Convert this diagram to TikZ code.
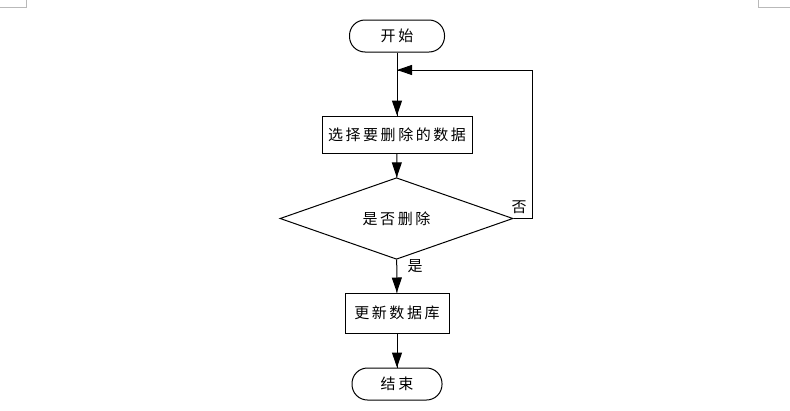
\documentclass[tikz,border=0pt]{standalone}
\usepackage{fontspec}
\usepackage{tikz}
\usetikzlibrary{arrows.meta}
\usetikzlibrary{decorations.markings}
\usetikzlibrary{shapes.geometric}
\newfontfamily\cjk[LetterSpace=17]{Noto Sans CJK SC}
\tikzset{arr/.style = {decoration={markings,
                                  mark=at position 1 with {\arrow{Triangle[length=15, width=10]}}},
                      postaction={decorate}}}
\tikzset{term/.style = {draw, rounded corners = 15.5, minimum width = 95, minimum height = 32, inner sep = 0}}
\tikzset{proc/.style = {draw, minimum height = 37, inner sep = 0}}
\tikzset{decide/.style = {draw, diamond, minimum width = 233, minimum height = 57, inner sep = 0}}
\tikzset{pagecorner/.style = {gray!55, line width = 0.8}}

\begin{document}
\begin{tikzpicture}[x=1pt, y=-1pt, line width=1, font=\cjk\fontsize{15}{17}\selectfont]
      \useasboundingbox (0, 0) rectangle (790, 410);
      \draw [pagecorner] (0, 7) -- (26, 7) -- (26, 0);
      \draw [pagecorner] (758, 0) -- (758, 7) -- (790, 7);

      \node (start) at (397, 36) [term] {开始};
      \node (select) at (397, 134.5) [proc, minimum width = 150] {选择要删除的数据};
      \node (check) at (396.5, 218.5) [decide] {是否删除};
      \node (update) at (397, 313) [proc, minimum width = 104, minimum height = 40] {更新数据库};
      \node (stop) at (397, 384) [term, minimum width = 90] {结束};
      \coordinate (loop) at (397, 70);

      \draw [arr] (start) -- (select);
      \draw [arr] (select) -- (check);
      \draw [arr] (check) -- (update) node [pos = 0.2, right = 7] {是};
      \draw [arr] (update) -- (stop);
      \draw [arr] (check.east) -- (532, 218.5) |- (loop);

      \node at (519, 207) {否};
    \end{tikzpicture}
\end{document}
